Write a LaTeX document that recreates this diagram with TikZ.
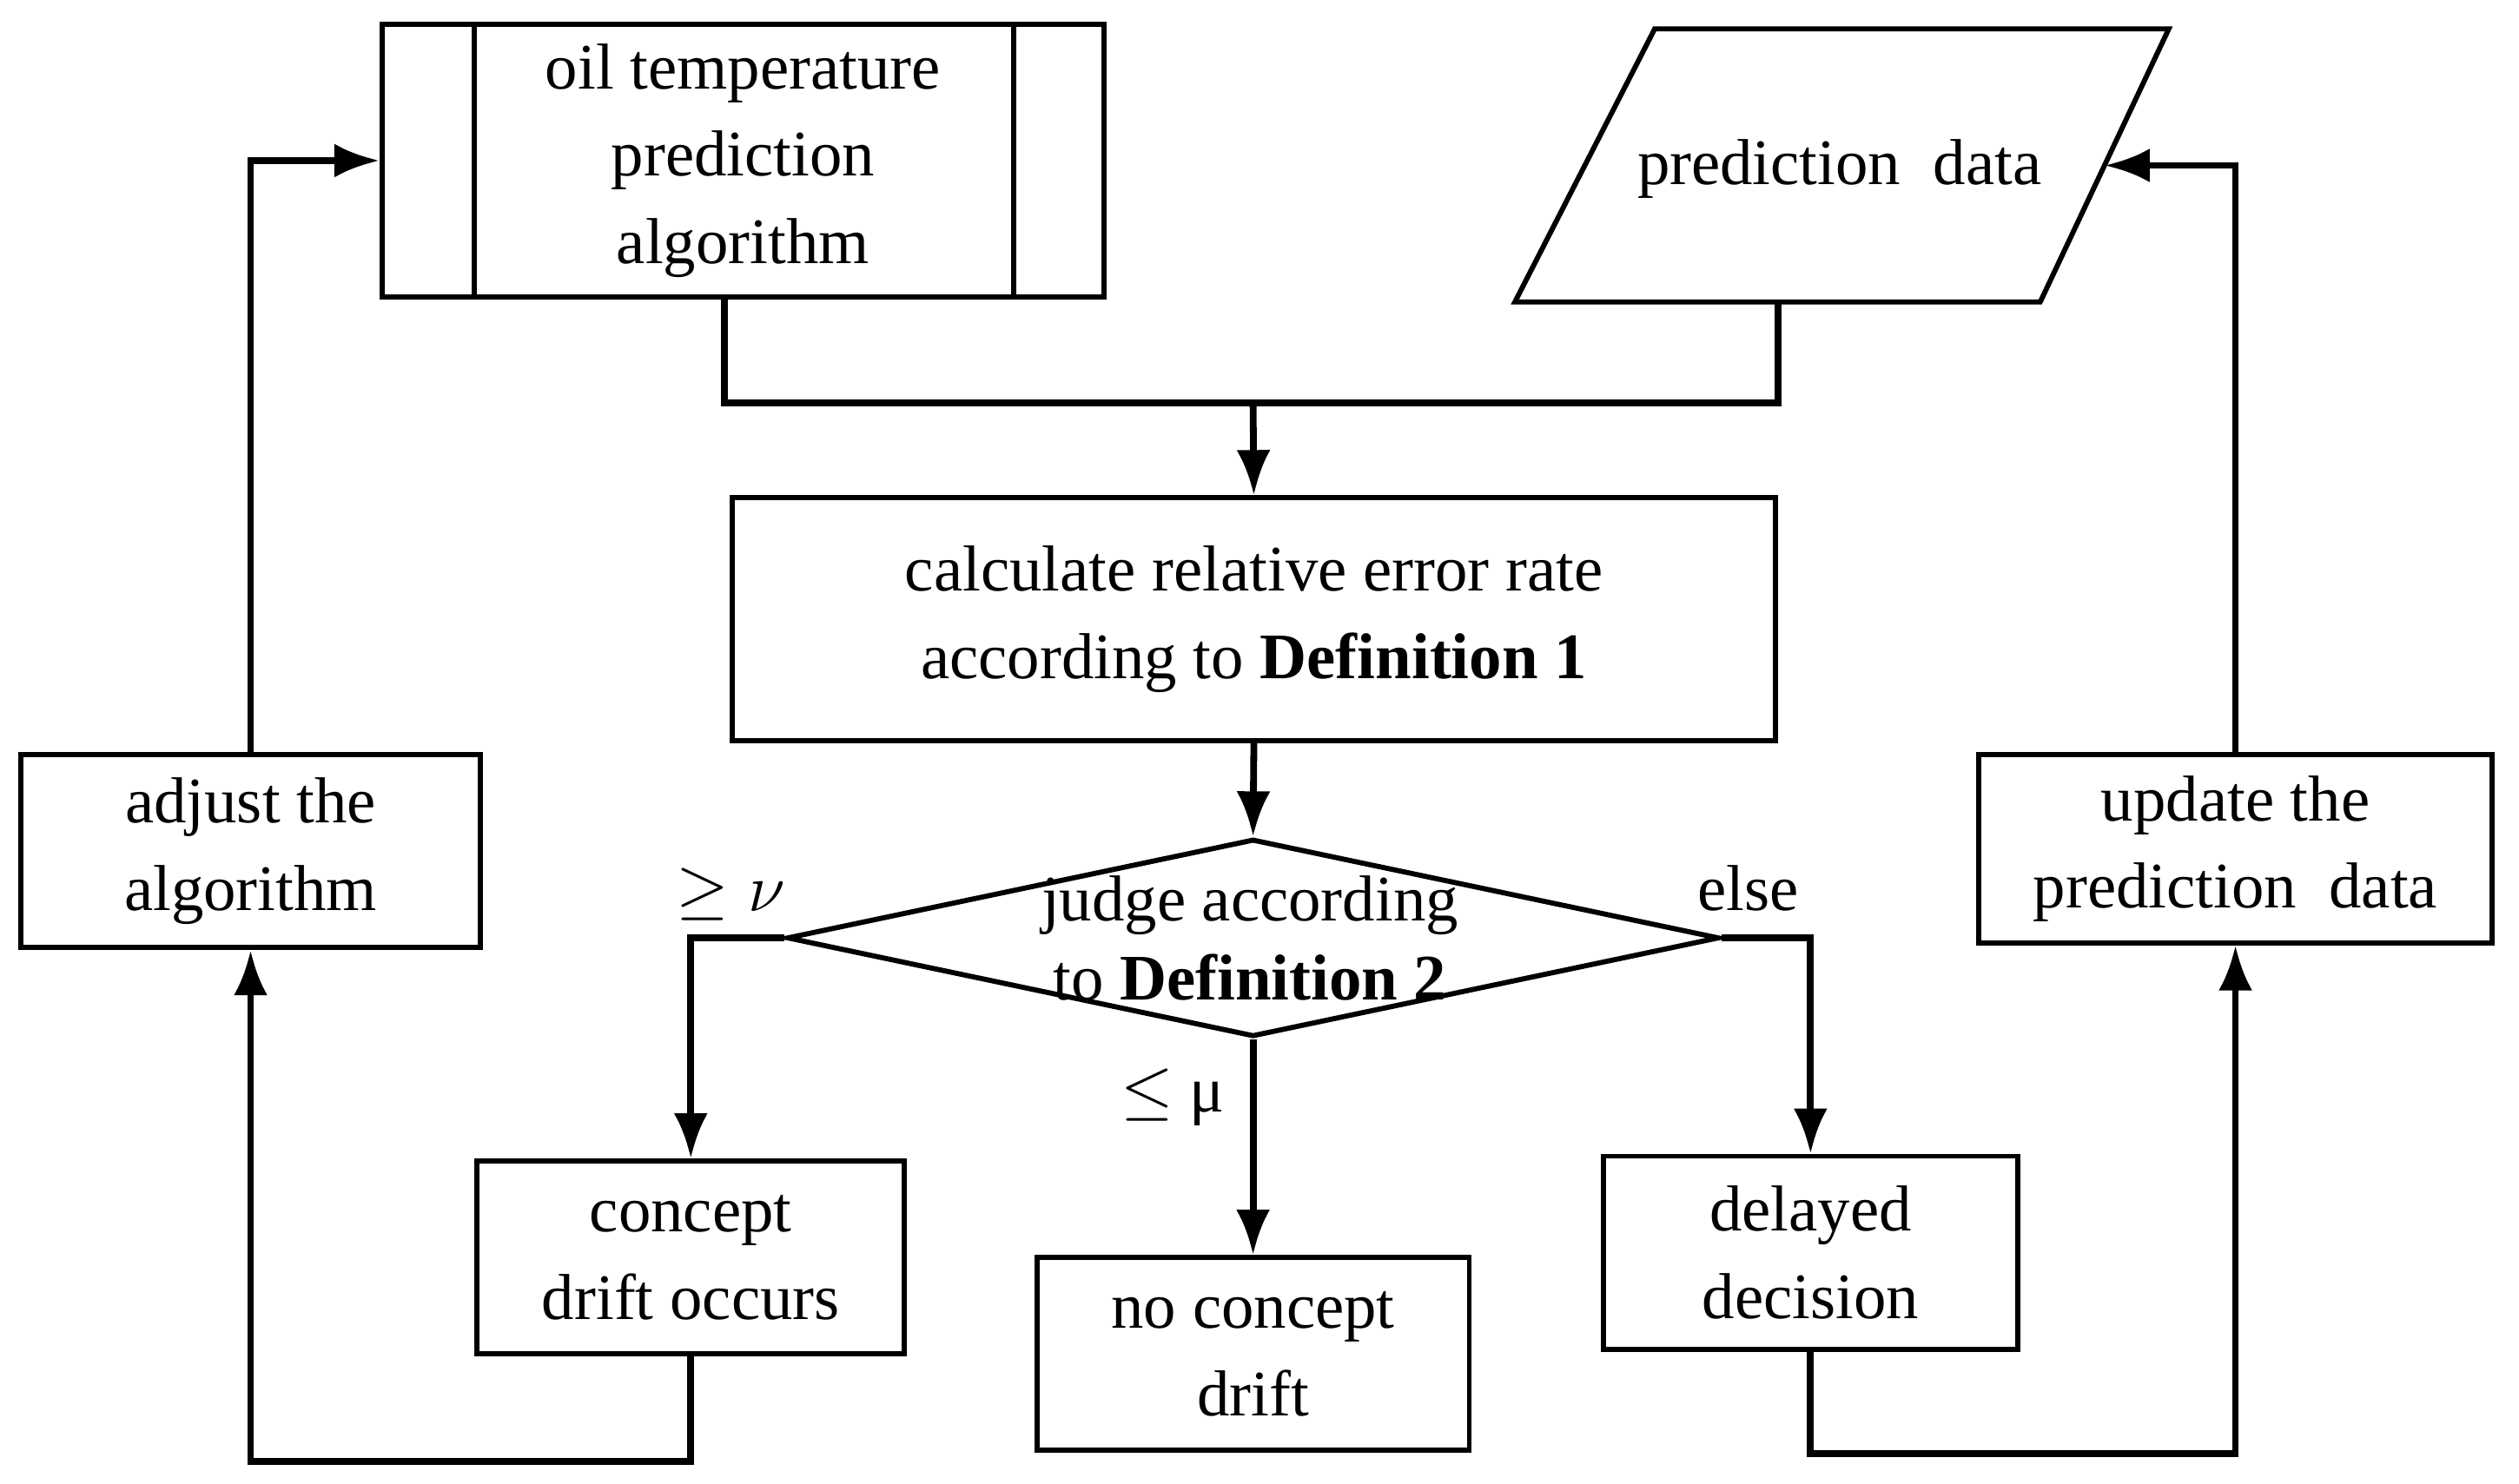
\documentclass[tikz,border=0pt]{standalone}
\usepackage{fontspec}
\setmainfont{Liberation Serif}
\usetikzlibrary{arrows.meta,shapes.geometric}
\begin{document}
\begin{tikzpicture}[x=0.01cm,y=-0.01cm,
  box/.style={draw,line width=0.9pt,align=center,inner sep=0pt,font=\fontsize{11.5}{15.5}\selectfont},
  conn/.style={line width=1.2pt},
  arr/.style={conn,-{Latex[length=8pt,width=6pt]}},
  lbl/.style={font=\fontsize{11.5}{14}\selectfont}]
\useasboundingbox (0,0) rectangle (1568,924);
% predefined process
\node[box,minimum width=4.49cm,minimum height=1.70cm] (alg) at (462.5,100) {oil temperature\\prediction\\algorithm};
\draw[line width=0.9pt] (295,15) -- (295,185) (631,15) -- (631,185);
% parallelogram
\draw[line width=0.9pt] (1030,18) -- (1350,18) -- (1270,188) -- (943,188) -- cycle;
\node[lbl] (pd) at (1145,105) {prediction\ \ data};
\coordinate (pdr) at (1310,103);
\coordinate (pdb) at (1107,188);
\node[box,minimum width=6.49cm,minimum height=1.51cm] (calc) at (780.5,385.5) {calculate relative error rate\\according to \textbf{Definition 1}};
\node[draw,line width=0.9pt,diamond,aspect=4.7,minimum width=5.80cm,minimum height=1.23cm,inner sep=0pt] (dia) at (780,584) {};
\node[align=center,font=\fontsize{11.5}{14}\selectfont] (dt) at (778,584) {judge according\\to \textbf{Definition 2}};
\node[box,minimum width=2.86cm,minimum height=1.20cm] (adj) at (156,530) {adjust the\\algorithm};
\node[box,minimum width=3.19cm,minimum height=1.17cm] (upd) at (1391.5,528.5) {update the\\prediction\ \ data};
\node[box,minimum width=2.66cm,minimum height=1.20cm] (cd) at (430,783) {concept\\drift occurs};
\node[box,minimum width=2.69cm,minimum height=1.20cm] (ncd) at (780,843) {no concept\\drift};
\node[box,minimum width=2.58cm,minimum height=1.20cm] (del) at (1127,780) {delayed\\decision};
% connectors
\coordinate (j) at (780,251);
\draw[conn] (alg.south -| 451,0) |- (j);
\draw[conn] (pdb) |- (j);
\draw[arr] (j) -- (calc.north);
\draw[arr] (calc.south) -- (dia.north);
\draw[arr] (dia.west) -| (cd.north);
\draw[arr] (dia.south) -- (ncd.north);
\draw[arr] (dia.east) -| (del.north);
\draw[arr] (cd.south) |- (300,910) -| (adj.south);
\draw[arr] (adj.north) |- (alg.west);
\draw[arr] (del.south) |- (1200,905) -| (upd.south);
\draw[arr] (upd.north) |- (pdr);
% labels
\node[lbl] (l1) at (455,557) {$\geq \nu$};
\node[lbl] (l2) at (1088,553) {else};
\node[lbl] (l3) at (730,683) {$\leq$ μ};
\end{tikzpicture}
\end{document}
